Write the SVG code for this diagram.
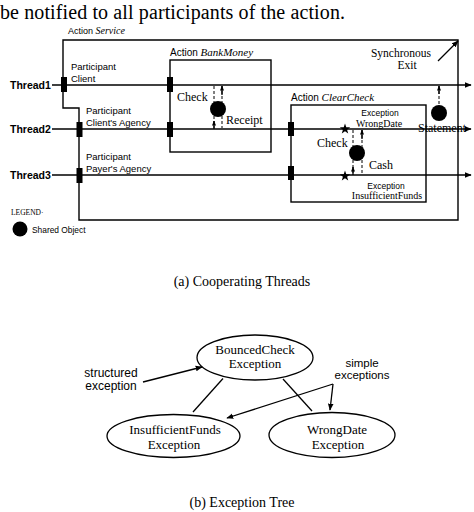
<svg xmlns="http://www.w3.org/2000/svg" width="474" height="512" viewBox="0 0 474 512">
<style>
.sans{font-family:"Liberation Sans",Arial,sans-serif;fill:#000}
.serif{font-family:"Liberation Serif","Times New Roman",serif;fill:#000}
.ln{stroke:#000;stroke-width:1.3;fill:none}
.box{stroke:#000;stroke-width:1.4;fill:none}
.dash{stroke:#000;stroke-width:1;stroke-dasharray:3 2;fill:none}
.bar{fill:#000}
.thr{font-family:"Liberation Sans",Arial,sans-serif;font-weight:bold;font-size:10.5px}
.lbl{font-size:9.5px}
.it{font-style:italic}
</style>
<defs>
<marker id="ah" viewBox="0 0 10 10" refX="9" refY="5" markerWidth="7" markerHeight="7" orient="auto" markerUnits="userSpaceOnUse">
<path d="M0,1 L10,5 L0,9 Z" fill="#000"/>
</marker>
<marker id="sm" viewBox="0 0 10 10" refX="9" refY="5" markerWidth="5" markerHeight="5" orient="auto" markerUnits="userSpaceOnUse">
<path d="M0,1 L10,5 L0,9 Z" fill="#000"/>
</marker>
<path id="star" d="M0,-5.5 L1.29,-1.78 L5.23,-1.7 L2.09,0.68 L3.23,4.45 L0,2.2 L-3.23,4.45 L-2.09,0.68 L-5.23,-1.7 L-1.29,-1.78 Z" fill="#000"/>
</defs>
<rect width="474" height="512" fill="#fff"/>

<text class="serif" x="0" y="19" font-size="20" textLength="345">be notified to all participants of the action.</text>

<!-- Part (a) -->
<g id="action-service">
<text class="sans" x="68" y="34" font-size="9">Action <tspan class="serif it" font-size="10">Service</tspan></text>
<path class="box" d="M63,40 L458,40 L458,220 L79,220 L79,108 L63,108 Z"/>
</g>

<g id="action-bankmoney">
<text class="sans" x="170" y="56" font-size="10">Action <tspan class="serif it" font-size="11">BankMoney</tspan></text>
<rect class="box" x="170" y="60" width="101" height="92"/>
</g>

<g id="action-clearcheck">
<text class="sans" x="291" y="101" font-size="10">Action <tspan class="serif it" font-size="11">ClearCheck</tspan></text>
<rect class="box" x="291" y="105" width="135" height="97"/>
</g>

<g id="connectors">
<line class="ln" x1="52" y1="85" x2="471" y2="85" marker-end="url(#ah)"/>
<line class="ln" x1="52" y1="129" x2="471" y2="129" marker-end="url(#ah)"/>
<line class="ln" x1="52" y1="175" x2="471" y2="175" marker-end="url(#ah)"/>
<line class="dash" x1="214" y1="86" x2="214" y2="128"/>
<line class="dash" x1="222" y1="86" x2="222" y2="128"/>
<line class="ln" x1="222" y1="95" x2="222" y2="86" stroke-width="1" marker-end="url(#sm)"/>
<line class="ln" x1="214" y1="129" x2="214" y2="121" stroke-width="1" marker-end="url(#sm)"/>
<line class="dash" x1="353" y1="130" x2="353" y2="174"/>
<line class="dash" x1="362" y1="130" x2="362" y2="174"/>
<line class="ln" x1="362" y1="139" x2="362" y2="130" stroke-width="1" marker-end="url(#sm)"/>
<line class="ln" x1="353" y1="175" x2="353" y2="167" stroke-width="1" marker-end="url(#sm)"/>
<line class="dash" x1="439" y1="86" x2="439" y2="105"/>
<line class="ln" x1="439" y1="94" x2="439" y2="86" stroke-width="1" marker-end="url(#sm)"/>
<line class="ln" x1="438" y1="61" x2="458" y2="41" stroke-width="1" marker-end="url(#ah)"/>
</g>

<g id="threads">
<text class="thr" x="10" y="89">Thread1</text>
<text class="thr" x="10" y="133">Thread2</text>
<text class="thr" x="10" y="179">Thread3</text>
</g>

<g id="participants">
<rect class="bar" x="61" y="77" width="6" height="15"/>
<rect class="bar" x="76.5" y="122" width="6" height="15"/>
<rect class="bar" x="76.5" y="168" width="6" height="15"/>
<rect class="bar" x="167" y="77" width="6" height="15"/>
<rect class="bar" x="167" y="122" width="6" height="15"/>
<rect class="bar" x="288" y="122" width="6" height="14"/>
<rect class="bar" x="288" y="166" width="6" height="14"/>
<text class="sans lbl" x="71" y="70">Participant</text>
<text class="sans lbl" x="71" y="82">Client</text>
<text class="sans lbl" x="86" y="114">Participant</text>
<text class="sans lbl" x="86" y="126">Client's Agency</text>
<text class="sans lbl" x="86" y="160">Participant</text>
<text class="sans lbl" x="86" y="172">Payer's Agency</text>
</g>

<g id="bankmoney-object">
<text class="serif" x="177" y="101" font-size="12">Check</text>
<circle cx="218" cy="109" r="8" fill="#000"/>
<text class="serif" x="226" y="124" font-size="12">Receipt</text>
</g>

<g id="clearcheck-object">
<text class="serif" x="317" y="147" font-size="12">Check</text>
<circle cx="357" cy="153" r="8" fill="#000"/>
<text class="serif" x="369" y="169" font-size="12">Cash</text>
<use href="#star" x="345" y="129"/>
<use href="#star" x="345" y="176"/>
<text class="sans" x="380" y="116" font-size="8.5" text-anchor="middle">Exception</text>
<text class="serif" x="379" y="127" font-size="10" text-anchor="middle">WrongDate</text>
<text class="sans" x="386" y="189" font-size="8.5" text-anchor="middle">Exception</text>
<text class="serif" x="387" y="199" font-size="10" text-anchor="middle">InsufficientFunds</text>
</g>

<g id="statement">
<circle cx="439" cy="113" r="8" fill="#000"/>
<text class="serif" x="442" y="132" font-size="12" text-anchor="middle">Statement</text>
</g>

<g id="sync-exit">
<text class="serif" x="401" y="57" font-size="11.5" text-anchor="middle">Synchronous</text>
<text class="serif" x="407" y="68.5" font-size="11.5" text-anchor="middle">Exit</text>
</g>

<g id="legend">
<text class="serif" x="11" y="215" font-size="7.5">LEGEND·</text>
<circle cx="20" cy="229" r="7.5" fill="#000"/>
<text class="sans" x="32" y="233" font-size="8.4">Shared Object</text>
</g>

<text class="serif" x="242" y="286" font-size="14" text-anchor="middle">(a) Cooperating Threads</text>

<!-- Part (b) -->
<g id="bouncedcheck">
<ellipse class="ln" cx="255" cy="357.5" rx="58" ry="22.5"/>
<text class="serif" x="255" y="354" font-size="13" text-anchor="middle">BouncedCheck</text>
<text class="serif" x="255" y="368" font-size="13" text-anchor="middle">Exception</text>
</g>
<g id="insufficientfunds">
<ellipse class="ln" cx="173.5" cy="436" rx="66.5" ry="21.5"/>
<text class="serif" x="175" y="434" font-size="13" text-anchor="middle">InsufficientFunds</text>
<text class="serif" x="174" y="449" font-size="13" text-anchor="middle">Exception</text>
</g>
<g id="wrongdate">
<ellipse class="ln" cx="332" cy="435" rx="63" ry="22.5"/>
<text class="serif" x="337" y="434" font-size="13" text-anchor="middle">WrongDate</text>
<text class="serif" x="338" y="449" font-size="13" text-anchor="middle">Exception</text>
</g>
<g id="labels-b">
<text class="sans" x="111" y="377" font-size="12" text-anchor="middle">structured</text>
<text class="sans" x="111" y="389.5" font-size="12" text-anchor="middle">exception</text>
<text class="sans" x="362" y="366.5" font-size="11.5" text-anchor="middle">simple</text>
<text class="sans" x="362" y="379" font-size="11.5" text-anchor="middle">exceptions</text>
</g>
<g id="connectors-b">
<line class="ln" x1="223" y1="378.5" x2="193" y2="412" stroke-width="1.1"/>
<line class="ln" x1="283" y1="379" x2="312" y2="411" stroke-width="1.1"/>
<line class="ln" x1="143" y1="382" x2="202" y2="367" stroke-width="1.1" marker-end="url(#ah)"/>
<line class="ln" x1="333" y1="384" x2="227" y2="418" stroke-width="1.1" marker-end="url(#ah)"/>
<line class="ln" x1="333" y1="384" x2="330" y2="410" stroke-width="1.1" marker-end="url(#ah)"/>
</g>

<text class="serif" x="242" y="507" font-size="14" text-anchor="middle">(b) Exception Tree</text>
</svg>
